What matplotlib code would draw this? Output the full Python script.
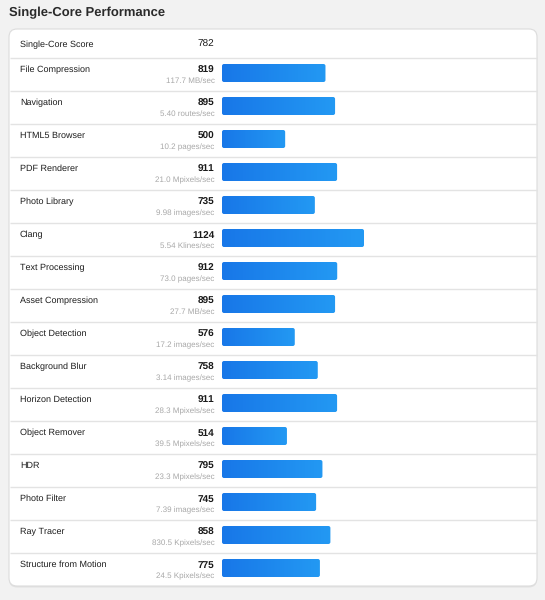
"""
Single-core benchmark card: per-workload scores drawn as gradient bars,
laid out in pixel coordinates to mimic the results page.
"""
import numpy as np
import matplotlib
matplotlib.use('Agg')
import matplotlib.pyplot as plt
from matplotlib.colors import LinearSegmentedColormap
from matplotlib.patches import FancyBboxPatch

plt.rcParams['font.family'] = ['Liberation Sans', 'DejaVu Sans']
plt.rcParams['text.hinting'] = 'none'
plt.rcParams['text.hinting_factor'] = 1

# ========================================================
# Data
# ========================================================
title = 'Single-Core Performance'
score_label = 'Single-Core Score'
score_value = 782

benchmarks = [
    'File Compression', 'Navigation', 'HTML5 Browser', 'PDF Renderer',
    'Photo Library', 'Clang', 'Text Processing', 'Asset Compression',
    'Object Detection', 'Background Blur', 'Horizon Detection',
    'Object Remover', 'HDR', 'Photo Filter', 'Ray Tracer',
    'Structure from Motion',
]
scores = [819, 895, 500, 911, 735, 1124, 912, 895,
          576, 758, 911, 514, 795, 745, 858, 775]
rates = [
    '117.7 MB/sec', '5.40 routes/sec', '10.2 pages/sec', '21.0 Mpixels/sec',
    '9.98 images/sec', '5.54 Klines/sec', '73.0 pages/sec', '27.7 MB/sec',
    '17.2 images/sec', '3.14 images/sec', '28.3 Mpixels/sec',
    '39.5 Mpixels/sec', '23.3 Mpixels/sec', '7.39 images/sec',
    '830.5 Kpixels/sec', '24.5 Kpixels/sec',
]

# ========================================================
# Layout (pixels)
# ========================================================
W, H = 545, 600
card_x0, card_y0, card_x1, card_y1 = 9, 29, 537, 586
score_row_h = 29
row_h = 33
label_x = 20
value_x = 214.5
bar_x = 222
bar_h = 18
px_per_point = 142 / 1124

text_color = '#1e1e1e'
sub_color = '#a8a8a8'
line_color = '#e3e3e3'
grad = LinearSegmentedColormap.from_list('bar', ['#1877e8', '#2399f3'])

fig = plt.figure(figsize=(W / 100, H / 100), dpi=100, facecolor='#f2f2f2')
ax = fig.add_axes([0, 0, 1, 1])
ax.set_facecolor('#f2f2f2')
ax.axis('off')

# --- Title and card ---
ax.text(9, 13, title, fontsize=9.1, fontweight='bold', color='#2a2a2a',
        va='center', ha='left')
shadow = FancyBboxPatch((card_x0, card_y0 + 1.5), card_x1 - card_x0, card_y1 - card_y0,
                        boxstyle='round,pad=0,rounding_size=8',
                        fc='#e2e2e2', ec='none', zorder=0)
card = FancyBboxPatch((card_x0, card_y0), card_x1 - card_x0, card_y1 - card_y0,
                      boxstyle='round,pad=0,rounding_size=8',
                      fc='white', ec='#dcdcdc', lw=0.8, zorder=1)
ax.add_patch(shadow)
ax.add_patch(card)

# --- Score row ---
score_mid = card_y0 + 14.5
ax.text(label_x, score_mid, score_label, fontsize=6.6, color=text_color,
        va='center_baseline', ha='left', zorder=3)
ax.text(value_x, score_mid, f'{score_value}', fontsize=6.9, color=text_color,
        va='center_baseline', ha='right', zorder=3)

# --- Benchmark rows ---
row_tops = card_y0 + score_row_h + row_h * np.arange(len(benchmarks))
bar_centers = row_tops + 6 + bar_h / 2
bars = ax.barh(bar_centers, np.array(scores) * px_per_point, left=bar_x,
               height=bar_h, color='none', edgecolor='none', zorder=2)

ramp = np.linspace(0, 1, 256).reshape(1, -1)
for top, name, val, rate, bar in zip(row_tops, benchmarks, scores, rates, bars):
    ax.plot([card_x0 + 0.5, card_x1 - 0.5], [top, top], color=line_color,
            lw=1, zorder=2, solid_capstyle='butt')
    ax.text(label_x, top + 11, name, fontsize=6.6, color=text_color,
            va='center_baseline', ha='left', zorder=3)
    ax.text(value_x, top + 11, f'{val}', fontsize=7.1, color='#1a1a1a',
            fontweight='semibold', va='center_baseline', ha='right', zorder=3)
    ax.text(value_x, top + 22.5, rate, fontsize=5.5, color=sub_color,
            va='center_baseline', ha='right', zorder=3)
    x0, y0 = bar.get_x(), bar.get_y()
    w, h = bar.get_width(), bar.get_height()
    rounded = FancyBboxPatch((x0, y0), w, h, boxstyle='round,pad=0,rounding_size=2',
                             fc='none', ec='none', transform=ax.transData)
    ax.add_patch(rounded)
    im = ax.imshow(ramp, cmap=grad, extent=[x0, x0 + w, y0 + h, y0],
                   aspect='auto', interpolation='bilinear', zorder=2)
    im.set_clip_path(rounded)

ax.set_xlim(0, W)
ax.set_ylim(H, 0)

plt.savefig('out.png', dpi=100, facecolor=fig.get_facecolor())
